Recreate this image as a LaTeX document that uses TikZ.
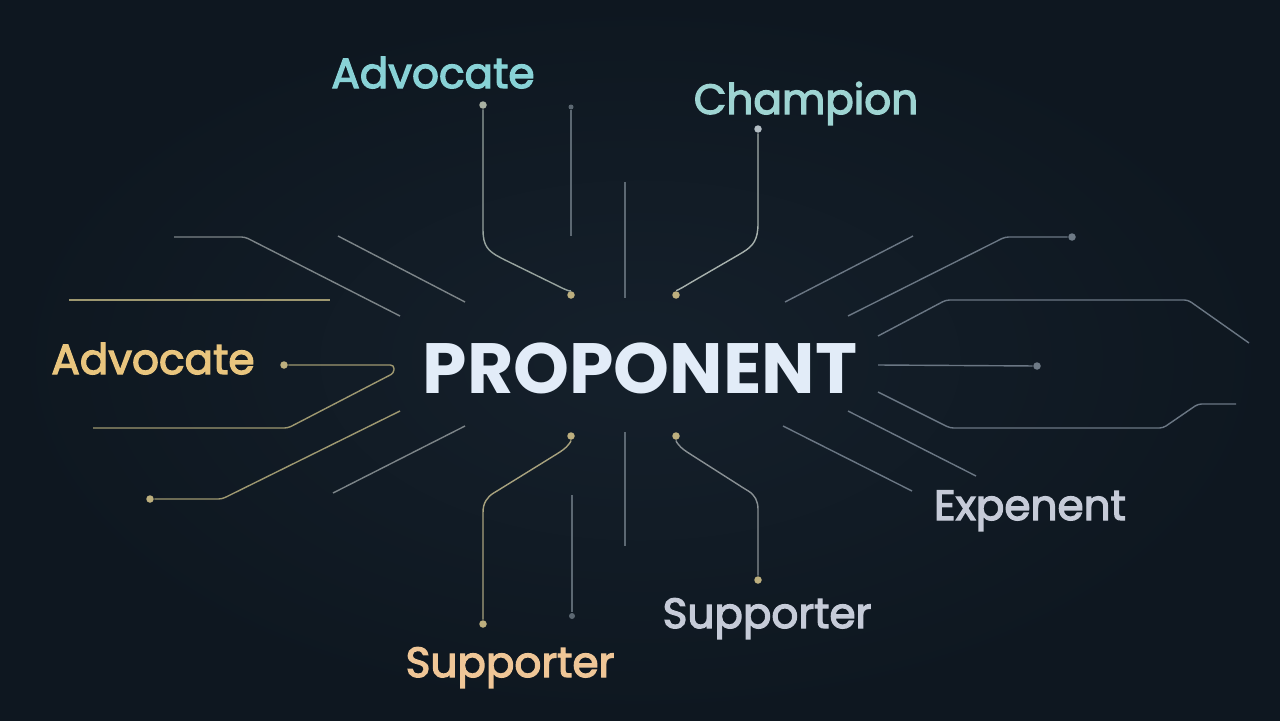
\documentclass[tikz,border=0pt]{standalone}
\usepackage{fontspec}
\setmainfont{Poppins}
\newfontfamily\tagfont{Poppins}[FakeBold=3]
\usetikzlibrary{positioning}
\definecolor{bgdark}{HTML}{0E1720}
\definecolor{bgmid}{HTML}{15202B}
\definecolor{maintext}{HTML}{E2ECF8}
\definecolor{tealtext}{HTML}{88D2D6}
\definecolor{champtext}{HTML}{9ED4D2}
\definecolor{goldtext}{HTML}{E9C57E}
\definecolor{greytext}{HTML}{C6CBD8}
\definecolor{peachtext}{HTML}{EFC697}
\definecolor{goldwire}{HTML}{9E9870}
\definecolor{greywire}{HTML}{7C8488}
\definecolor{bluewire}{HTML}{6B7784}
\definecolor{tealwire}{HTML}{97A39E}
\definecolor{dimwire}{HTML}{5C6872}
\definecolor{dotgold}{HTML}{BDAF7E}
\definecolor{dotgrey}{HTML}{A9B1A2}
\definecolor{dotlight}{HTML}{B3BEC4}
\definecolor{dotblue}{HTML}{6E7A86}
\begin{document}
\begin{tikzpicture}[x=0.02cm,y=-0.02cm]
            \tikzstyle{every path}=[line width=0.8pt]
            \tikzstyle{dot}=[circle, inner sep=0pt, minimum size=0.15cm]
            \tikzstyle{wire}=[line width=0.8pt, rounded corners=2pt]
            \tikzstyle{tag}=[font=\tagfont\fontsize{24}{29}\selectfont, anchor=base, inner sep=0pt]

            \fill[bgdark] (0,0) rectangle (1280,720);
            \shade[inner color=bgmid, outer color=bgdark] (0,0) rectangle (1280,720);

            \node[font=\bfseries\fontsize{40.5}{48}\selectfont, text=maintext, anchor=base, inner sep=0pt] (main) at (640,393) {PROPONENT};

            \node[tag, text=tealtext] (advtop) at (433,88) {Advocate};
            \node[tag, text=champtext] (champ) at (806,114) {Champion};
            \node[tag, text=goldtext] (advleft) at (153,374) {Advocate};
            \node[tag, text=greytext] (expo) at (1030,520) {Expenent};
            \node[tag, text=greytext] (suppr) at (767,628) {Supporter};
            \node[tag, text=peachtext] (suppb) at (510,677) {Supporter};

            \node[dot, fill=dotgrey] (d1) at (483,105) {};
            \node[dot, fill=dotgold] (d2) at (571,295) {};
            \node[dot, fill=dimwire, minimum size=0.1cm] (d3) at (571,107) {};
            \node[dot, fill=dotlight] (d4) at (758,129) {};
            \node[dot, fill=dotgold] (d5) at (676,295) {};
            \node[dot, fill=dotgold] (d6) at (284,365) {};
            \node[dot, fill=dotgold] (d7) at (150,499) {};
            \node[dot, fill=dotblue] (d8) at (1072,237) {};
            \node[dot, fill=dotblue] (d9) at (1037,366) {};
            \node[dot, fill=dotgold] (d10) at (571,436) {};
            \node[dot, fill=dotgold] (d11) at (483,624) {};
            \node[dot, fill=dimwire, minimum size=0.12cm] (d12) at (572,616) {};
            \node[dot, fill=dotgold] (d13) at (676,436) {};
            \node[dot, fill=dotgold] (d14) at (758,580) {};

            \coordinate (t1) at (571,236);
            \coordinate (t2a) at (625,182);
            \coordinate (t2b) at (625,298);
            \coordinate (tl1a) at (338,236);
            \coordinate (tl1b) at (465,302);
            \coordinate (tl2a) at (174,237);
            \coordinate (tl2b) at (400,316);
            \coordinate (tr1a) at (785,302);
            \coordinate (tr1b) at (913,236);
            \coordinate (tr2) at (848,316);
            \coordinate (l1a) at (69,300);
            \coordinate (l1b) at (330,300);
            \coordinate (l2) at (93,428);
            \coordinate (l3) at (400,411);
            \coordinate (l4a) at (465,426);
            \coordinate (l4b) at (333,493);
            \coordinate (r1a) at (878,336);
            \coordinate (r1b) at (1249,343);
            \coordinate (r2) at (878,365);
            \coordinate (r3a) at (878,392);
            \coordinate (r3b) at (1236,404);
            \coordinate (r4a) at (848,411);
            \coordinate (r4b) at (976,476);
            \coordinate (r5a) at (783,426);
            \coordinate (r5b) at (912,491);
            \coordinate (b1a) at (625,432);
            \coordinate (b1b) at (625,546);
            \coordinate (b2) at (572,495);

            \draw[wire, tealwire] (d1) -- (483,226) .. controls (483,246) and (488,251) .. (503,259) -- (556,285) .. controls (566,290) and (571,292) .. (d2);
            \draw[wire, dimwire] (d3) -- (t1);
            \draw[wire, dimwire] (t2a) -- (t2b);
            \draw[wire, tealwire!85!white] (d4) -- (758,220) .. controls (758,240) and (753,246) .. (740,254) -- (690,283) .. controls (680,289) and (676,291) .. (d5);
            \draw[wire, greywire] (tl1a) -- (tl1b);
            \draw[wire, greywire] (tl2a) -- (245,237) -- (tl2b);
            \draw[wire, bluewire] (tr1a) -- (tr1b);
            \draw[wire, bluewire] (tr2) -- (1005,237) -- (d8);

            \draw[wire, goldwire] (l1a) -- (l1b);
            \draw[wire, goldwire] (d6) -- (394,365) -- (394,373) -- (288,428) -- (l2);
            \draw[wire, goldwire] (l3) -- (222,499) -- (d7);
            \draw[wire, greywire] (l4a) -- (l4b);

            \draw[wire, bluewire] (r1a) -- (946,300) -- (1188,300) -- (r1b);
            \draw[wire, bluewire] (r2) -- (d9);
            \draw[wire, bluewire] (r3a) -- (950,428) -- (1163,428) -- (1198,404) -- (r3b);
            \draw[wire, bluewire] (r4a) -- (r4b);
            \draw[wire, bluewire] (r5a) -- (r5b);

            \draw[wire, goldwire!90!white] (d10) .. controls (571,442) and (567,447) .. (560,452) -- (497,491) .. controls (487,497) and (483,503) .. (483,516) -- (d11);
            \draw[wire, dimwire] (b2) -- (d12);
            \draw[wire, dimwire] (b1a) -- (b1b);
            \draw[wire, greywire!90!white] (d13) .. controls (676,442) and (680,447) .. (687,452) -- (745,489) .. controls (755,495) and (758,501) .. (758,513) -- (d14);
\end{tikzpicture}
\end{document}
